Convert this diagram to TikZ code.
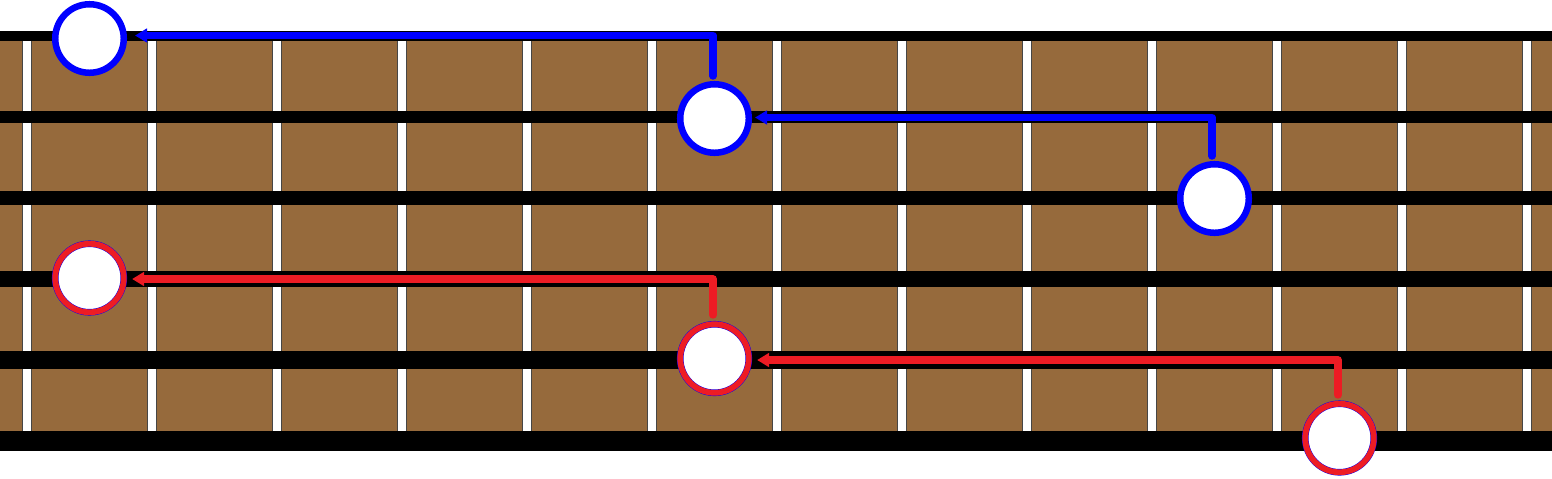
\documentclass[tikz,border=0pt]{standalone}
\usetikzlibrary{arrows.meta}
\definecolor{fretboard}{RGB}{150,106,60}
\definecolor{noteRed}{RGB}{237,28,36}
\definecolor{fretEdge}{RGB}{70,70,70}
\tikzset{
  fretbar/.style={fill=white, draw=fretEdge, line width=0.012cm},
  stringline/.style={draw=black},
  bluenote/.style={circle, draw=blue, fill=white, line width=0.065cm, minimum size=0.685cm, inner sep=0pt},
  rednote/.style={circle, draw=blue, double=noteRed, double distance=0.058cm, line width=0.004cm, fill=white, minimum size=0.685cm, inner sep=0pt, outer sep=0.033cm},
  notearrow/.style={line width=0.075cm, line cap=round, line join=round, -{Triangle[length=0.12cm,width=0.135cm]}},
  bluearrow/.style={notearrow, draw=blue},
  redarrow/.style={notearrow, draw=noteRed}
}
\begin{document}
\begin{tikzpicture}[x=0.01cm, y=-0.01cm]
\useasboundingbox (0,0) rectangle (1552,478);
% fretboard
\fill[fretboard] (0,35.5) rectangle (1552,441);
% frets
\foreach \i in {0,...,12} {
  \draw[fretbar] ({27+125*\i-4.5},36) rectangle ({27+125*\i+4.5},441);
}
% strings
\draw[stringline, line width=0.10cm] (0,35.5) -- (1552,35.5);
\draw[stringline, line width=0.12cm] (0,117) -- (1552,117);
\draw[stringline, line width=0.14cm] (0,198) -- (1552,198);
\draw[stringline, line width=0.16cm] (0,279) -- (1552,279);
\draw[stringline, line width=0.18cm] (0,360) -- (1552,360);
\draw[stringline, line width=0.20cm] (0,441) -- (1552,441);
% notes
\node[bluenote] (c1) at (89.5,38.5) {};
\node[bluenote] (c2) at (714.5,118.5) {};
\node[bluenote] (c3) at (1214.5,198.5) {};
\node[rednote] (c4) at (89.5,278) {};
\node[rednote] (c5) at (714.5,358.5) {};
\node[rednote] (c6) at (1339.5,438) {};
% connectors
\draw[bluearrow, shorten <=0.05cm, shorten >=0.08cm] ([xshift=-0.015cm]c2.north) |- ([yshift=0.03cm]c1.east);
\draw[bluearrow, shorten <=0.05cm, shorten >=0.03cm] ([xshift=-0.025cm]c3.north) |- ([yshift=0.01cm]c2.east);
\draw[redarrow, shorten <=0.06cm, shorten >=0.05cm] ([xshift=-0.015cm]c5.north) |- ([yshift=-0.01cm]c4.east);
\draw[redarrow, shorten <=0.055cm, shorten >=0.05cm] ([xshift=-0.015cm]c6.north) |- ([yshift=-0.015cm]c5.east);
\end{tikzpicture}
\end{document}
